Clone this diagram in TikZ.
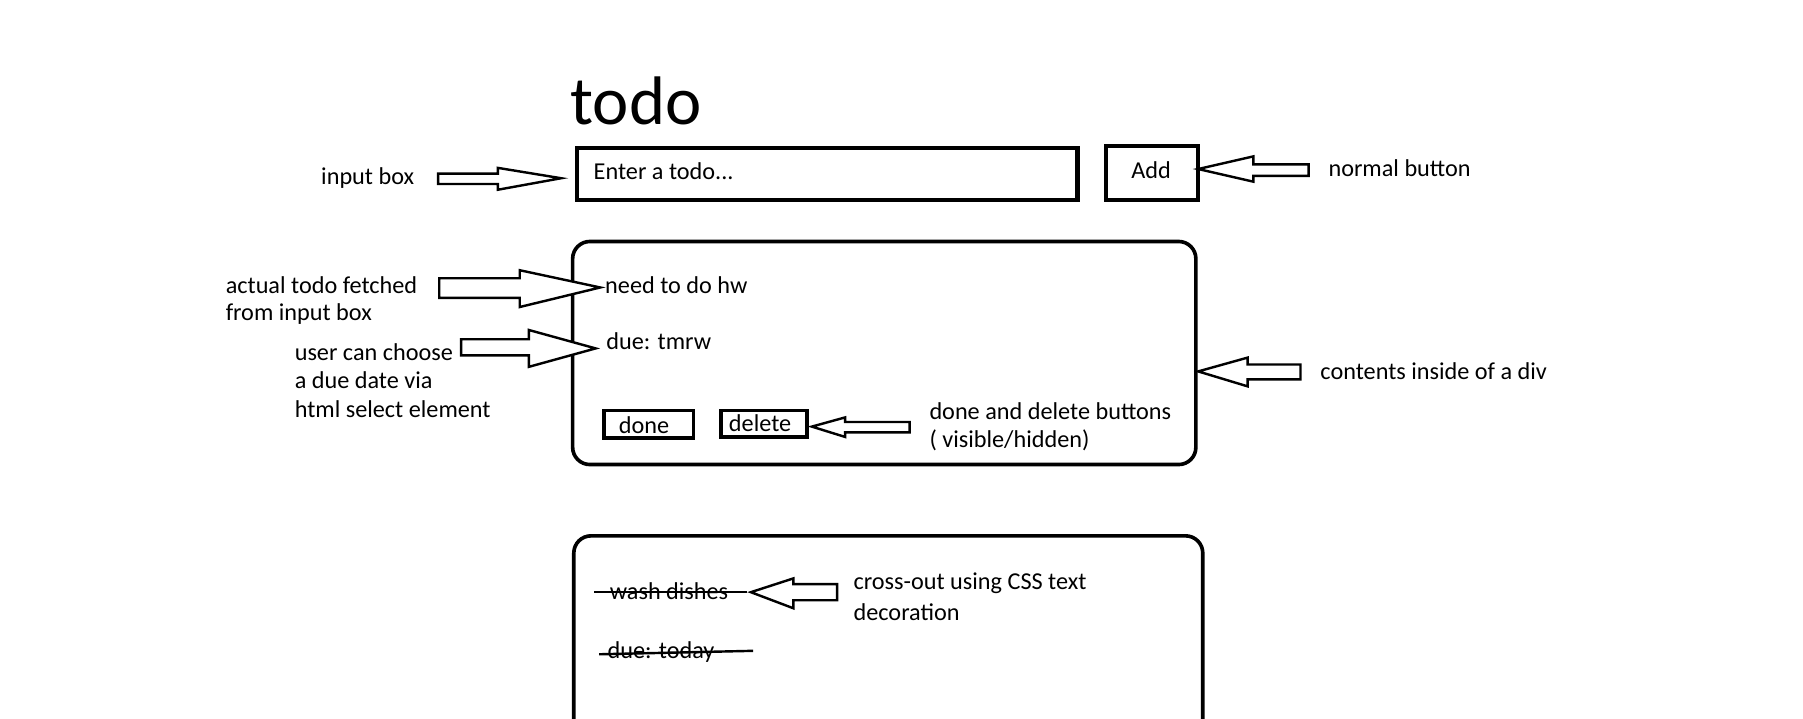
\documentclass[tikz,border=0pt]{standalone}
\usepackage{fontspec}
\setmainfont{Carlito}
\begin{document}
\begin{tikzpicture}[x=0.02cm,y=-0.02cm,
  lbl/.style={anchor=west,inner sep=0pt,font=\fontsize{12pt}{14pt}\selectfont},
  box/.style={draw,line width=2.2pt},
  rbox/.style={draw,line width=1.8pt,rounded corners=0.3cm},
  barrow/.style={draw,line width=1.2pt,fill=white,line join=miter},
  strike/.style={draw,line width=1.2pt}]
\useasboundingbox (0,0) rectangle (1568,625);
\node[anchor=center,inner sep=0pt,font=\fontsize{34pt}{38pt}\selectfont] (title) at (553,88) {todo};
% input box
\node[box,minimum width=0.02cm*435,minimum height=0.02cm*45,anchor=north west] (inbox) at (500,127) {};
\node[lbl] (intext) at (516,149) {Enter a todo...};
\node[box,minimum width=0.02cm*80,minimum height=0.02cm*47,anchor=north west] (add) at (960,125) {};
\node[lbl,anchor=center] (addtxt) at (1001,148) {Add};
\node[lbl] (l1) at (279,155) {input box};
\draw[barrow] (381,151) -- (433,151) -- (433,146) -- (488,155) -- (433,165) -- (433,160) -- (381,160) -- cycle;
\node[lbl] (l2) at (1155,146) {normal button};
\draw[barrow] (1138,143) -- (1090,143) -- (1090,136) -- (1042,147) -- (1090,158) -- (1090,153) -- (1138,153) -- cycle;
% div 1
\draw[rbox] (498,210) rectangle (1040,404);
\node[lbl] (t1) at (526,248) {need to do hw};
\node[lbl] (t2) at (527,297) {due: tmrw};
\node[lbl] (l3) at (196,248) {actual todo fetched};
\node[lbl] (l3b) at (196,273) {from input box};
\draw[barrow] (382,242) -- (452,242) -- (452,235) -- (522,250) -- (452,267) -- (452,259) -- (382,259) -- cycle;
\node[lbl] (l4) at (256,306) {user can choose};
\node[lbl] (l4b) at (256,331) {a due date via};
\node[lbl] (l4c) at (256,356) {html select element};
\draw[barrow] (401,295) -- (460,295) -- (460,287) -- (518,303) -- (460,319) -- (460,309) -- (401,309) -- cycle;
\node[lbl] (l5) at (1148,323) {contents inside of a div};
\draw[barrow] (1131,317) -- (1085,317) -- (1085,311) -- (1042,323) -- (1085,336) -- (1085,330) -- (1131,330) -- cycle;
\draw[draw,line width=1.8pt] (525,357) rectangle (603,381);
\node[lbl,anchor=center] (done) at (560,370) {done};
\draw[draw,line width=1.8pt] (627,357) rectangle (702,380);
\node[lbl,anchor=center] (del) at (661,368) {delete};
\draw[barrow] (791,367) -- (735,367) -- (735,363) -- (706,371) -- (735,380) -- (735,376) -- (791,376) -- cycle;
\node[lbl] (l6) at (808,358) {done and delete buttons};
\node[lbl] (l6b) at (808,383) {( visible/hidden)};
% div 2
\draw[line width=1.8pt,rounded corners=0.3cm] (499,640) -- (499,466) -- (1046,466) -- (1046,640);
\node[lbl] (w1) at (530,514) {wash dishes};
\draw[strike] (517,515) -- (650,515);
\node[lbl] (w2) at (528,567) {due: today};
\draw[strike] (521,569) -- (655,566);
\draw[barrow] (728,508) -- (690,508) -- (690,503) -- (653,515) -- (690,529) -- (690,522) -- (728,522) -- cycle;
\node[lbl] (l7) at (742,507) {cross-out using CSS text};
\node[lbl] (l7b) at (742,532) {decoration};
\end{tikzpicture}
\end{document}
